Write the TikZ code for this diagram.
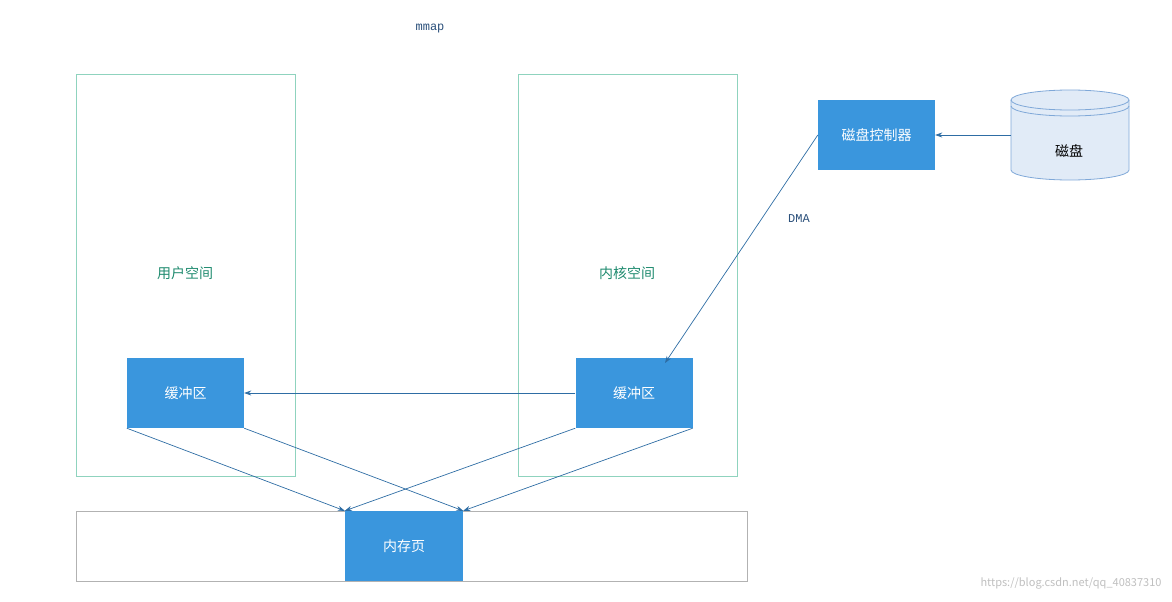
\documentclass[tikz,border=0pt]{standalone}
\usepackage{fontspec}
\setmainfont{Noto Sans CJK SC}
\newfontfamily\monofont{Liberation Mono}
\usetikzlibrary{arrows.meta}
\definecolor{bufblue}{HTML}{3A96DD}
\definecolor{spacegreen}{HTML}{8FD3BE}
\definecolor{labelgreen}{HTML}{1E8A6E}
\definecolor{arrowblue}{HTML}{2E6DA4}
\definecolor{diskfill}{HTML}{E1EBF7}
\definecolor{diskline}{HTML}{7FA8D8}
\definecolor{textblue}{HTML}{2A4F7A}
\begin{document}
\begin{tikzpicture}[x=1pt,y=-1pt,
every node/.style={font=\fontsize{14}{16}\selectfont},
space/.style={draw=spacegreen,line width=0.8pt},
buf/.style={fill=bufblue,text=white,minimum width=117pt,minimum height=70pt,inner sep=0pt},
arw/.style={-{Stealth[length=7pt,width=5pt]},draw=arrowblue,line width=0.7pt}
]
\useasboundingbox (0,0) rectangle (1172,602);
\node[text=textblue,font=\monofont\fontsize{12}{14}\selectfont]at(430,29)(mmap){mmap};
\draw[space](76,74)rectangle(295,476);
\node[text=labelgreen]at(185,273)(us){用户空间};
\draw[space](518,74)rectangle(737,476);
\node[text=labelgreen]at(627,273)(ks){内核空间};
\draw[draw=gray!60,line width=0.8pt](76,511)rectangle(747,581);
\node[buf]at(185.5,393)(ubuf){缓冲区};
\node[buf]at(634,393)(kbuf){缓冲区};
\node[buf,minimum width=118pt]at(404,546)(page){内存页};
\node[buf]at(876.5,135)(ctl){磁盘控制器};
% disk
\fill[diskfill](1011,100)--(1011,170)arc[start angle=180,end angle=360,x radius=59,y radius=-10]--(1129,100)arc[start angle=0,end angle=180,x radius=59,y radius=-10]--cycle;
\draw[diskline,line width=0.8pt](1011,100)--(1011,170)arc[start angle=180,end angle=360,x radius=59,y radius=-10]--(1129,100);
\draw[diskline,line width=0.8pt](1070,100)ellipse[x radius=59,y radius=10];
\draw[diskline,line width=0.8pt](1011,106)arc[start angle=180,end angle=360,x radius=59,y radius=-10];
\node at(1069,151)(disk){磁盘};
\coordinate(diskw)at(1011,135);
\node[text=textblue,font=\monofont\fontsize{12}{14}\selectfont]at(799,219)(dma){DMA};
\draw[arw](diskw)--(ctl.east);
\draw[arw](ctl.west)--(665,363);
\draw[arw](kbuf.west)--(ubuf.east);
\draw[arw](ubuf.south west)--(page.north west);
\draw[arw](ubuf.south east)--(page.north east);
\draw[arw](kbuf.south west)--(page.north west);
\draw[arw](kbuf.south east)--(page.north east);
\node[text=gray!50,font=\fontsize{11}{13}\selectfont,anchor=east]at(1165,583)(wm){https://blog.csdn.net/qq\_40837310};
\end{tikzpicture}
\end{document}
